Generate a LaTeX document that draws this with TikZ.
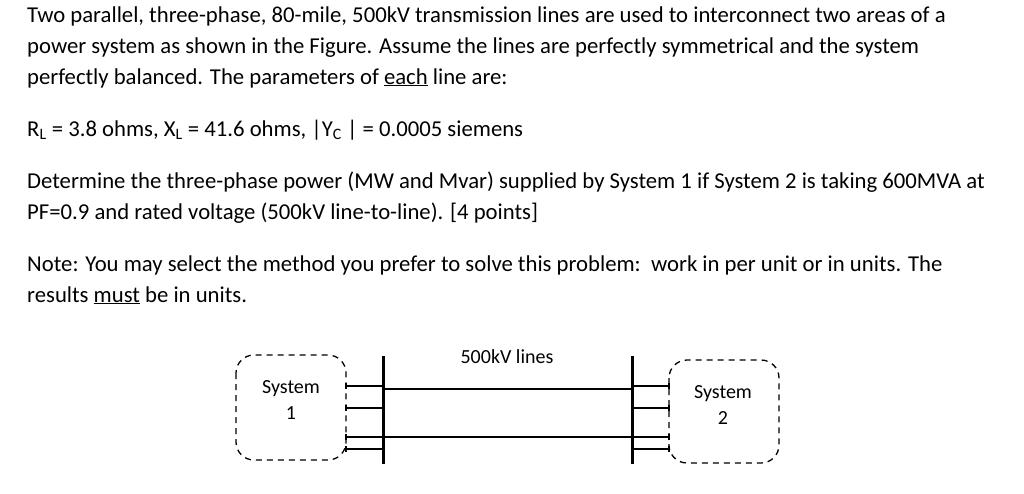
\documentclass[tikz,border=0pt]{standalone}
\usepackage{fontspec}
\setmainfont{Carlito}
\begin{document}
\begin{tikzpicture}[x=1pt,y=-1pt,
  txt/.style={anchor=base west,inner sep=0,font=\fontsize{22.7}{27}\selectfont},
  lbl/.style={align=center,inner sep=0,font=\fontsize{20}{26}\selectfont},
  sysbox/.style={draw,line width=1.3pt,rounded corners=18pt,dash pattern=on 6pt off 5pt},
  bus/.style={line width=3pt},
  ln/.style={line width=1.2pt}]
\useasboundingbox (0,0) rectangle (1024,493);
\node[txt] (t1) at (27,22) {Two parallel, three-phase, 80-mile, 500kV transmission lines are used to interconnect two areas of a};
\node[txt] (t2) at (27,53) {power system as shown in the Figure. Assume the lines are perfectly symmetrical and the system};
\node[txt] (t3) at (27,84) {perfectly balanced. The parameters of \underline{each} line are:};
\node[txt] (t4) at (27,136) {R\textsubscript{L} = 3.8 ohms, X\textsubscript{L} = 41.6 ohms, |Y\textsubscript{C} | = 0.0005 siemens};
\node[txt] (t5) at (27,188) {Determine the three-phase power (MW and Mvar) supplied by System 1 if System 2 is taking 600MVA at};
\node[txt] (t6) at (27,219) {PF=0.9 and rated voltage (500kV line-to-line). [4 points]};
\node[txt] (t7) at (27,271) {Note: You may select the method you prefer to solve this problem:\ \ work in per unit or in units. The};
\node[txt] (t8) at (27,302) {results \underline{must} be in units.};
\draw[sysbox] (236,355) rectangle (346,460);
\draw[sysbox] (669,360) rectangle (779,463);
\node[lbl] (s1) at (291,400) {System\\1};
\node[lbl] (s2) at (723,405) {System\\2};
\coordinate (b1t) at (383,356); \coordinate (b1b) at (383,464);
\coordinate (b2t) at (632,356); \coordinate (b2b) at (632,464);
\draw[bus] (b1t) -- (b1b);
\draw[bus] (b2t) -- (b2b);
\node[lbl] (l) at (507,357) {500kV lines};
\foreach \y in {386,408,437,449}{
  \draw[ln] (346,\y) -- (383,\y); \draw[ln] (346,\y-3) -- (346,\y+3);
  \draw[ln] (632,\y) -- (669,\y); \draw[ln] (669,\y-3) -- (669,\y+3);
}
\draw[ln] (383,389) -- (632,389);
\draw[ln] (383,437) -- (632,437);
\end{tikzpicture}
\end{document}
